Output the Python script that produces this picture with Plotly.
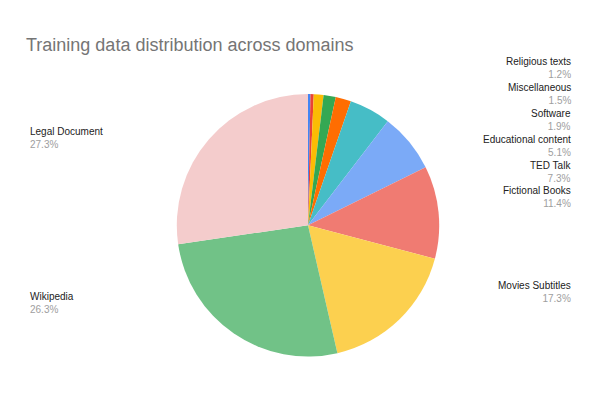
import plotly.graph_objs as go

labels = ['Other A', 'Other B', 'Religious texts', 'Miscellaneous', 'Software',
          'Educational content', 'TED Talk', 'Fictional Books', 'Movies Subtitles',
          'Wikipedia', 'Legal Document']
values = [0.3, 0.4, 1.2, 1.5, 1.9, 5.1, 7.3, 11.4, 17.3, 26.3, 27.3]
colors = ['#4285f4', '#ea4335', '#fbbc04', '#34a853', '#ff6d01', '#46bdc6',
          '#7baaf7', '#f07b72', '#fcd04f', '#71c287', '#f4cccc']

# label placement in pixels (x, y, side), like the reference's leader labels
label_pos = {
    'Religious texts': (565, 60, 'right'),
    'Miscellaneous': (565, 86, 'right'),
    'Software': (565, 112, 'right'),
    'Educational content': (565, 138, 'right'),
    'TED Talk': (565, 164, 'right'),
    'Fictional Books': (565, 189, 'right'),
    'Movies Subtitles': (565, 284, 'right'),
    'Legal Document': (20, 130, 'left'),
    'Wikipedia': (20, 295, 'left'),
}

fig = go.Figure()
fig.add_trace(go.Pie(
    labels=labels, values=values, sort=False, direction='clockwise', rotation=0,
    marker=dict(colors=colors, line=dict(width=0)),
    textinfo='none', showlegend=False, hoverinfo='label+percent',
    domain=dict(x=[0.2, 0.8], y=[0.15, 0.79]),
))

for lab, val in zip(labels, values):
    if lab not in label_pos:
        continue
    x, y, side = label_pos[lab]
    fig.add_annotation(
        x=x / 600, y=1 - y / 410, xref='paper', yref='paper',
        xanchor=side, yanchor='middle', align=side, showarrow=False,
        text='%s<br><span style="color:#9e9e9e">%.1f%%</span>' % (lab, val),
        font=dict(family='Arial', size=10, color='#222222'),
    )

fig.update_layout(
    width=600, height=410,
    title=dict(text='Training data distribution across domains', x=0.03, y=0.925,
               font=dict(family='Arial', size=18, color='#757575')),
    margin=dict(l=0, r=0, t=0, b=0),
    paper_bgcolor='white',
)

fig.write_html("out.html")
